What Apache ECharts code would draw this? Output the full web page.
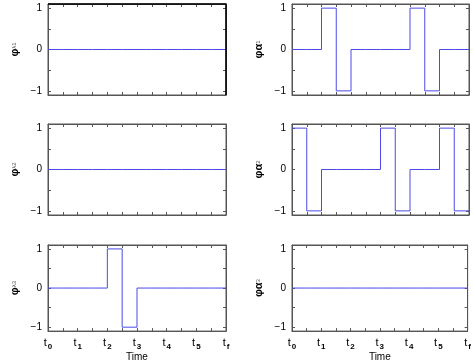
<!DOCTYPE html>
<html>
<head>
<meta charset="utf-8">
<script src="https://cdn.jsdelivr.net/npm/echarts@6/dist/echarts.min.js"></script>
<style>
html,body{margin:0;padding:0;background:#fff;}
#c{width:474px;height:363px;}
</style>
</head>
<body>
<div id="c"></div>
<script>
// segment start times (every half unit) and the end time
var segTimes = [0, 0.5, 1, 1.5, 2, 2.5, 3, 3.5, 4, 4.5, 5, 5.5];
var endTime = 6;
var xTickLabels = ['0', '1', '2', '3', '4', '5', 'f'];
var yTickLabels = [-1, 0, 1];

// values of each half-unit segment
var phiL1 = [0, 0, 0, 0, 0, 0, 0, 0, 0, 0, 0, 0];
var blackL1 = [1.1, 1.1, 1.1, 1.1, 1.1, 1.1, 1.1, 1.1, 1.1, 1.1, 1.1, 1.1];
var blackL1End = -1.1;
var phiA1 = [0, 0, 1, -1, 0, 0, 0, 0, 1, -1, 0, 0];
var phiL2 = [0, 0, 0, 0, 0, 0, 0, 0, 0, 0, 0, 0];
var phiA2 = [1, -1, 0, 0, 0, 0, 1, -1, 0, 0, 1, -1];
var phiL3 = [0, 0, 0, 0, 1, -1, 0, 0, 0, 0, 0, 0];
var phiA3 = [0, 0, 0, 0, 0, 0, 0, 0, 0, 0, 0, 0];

var yNamesLeft = ['λ1', 'λ2', 'λ3'];
var yNamesRight = ['1', '2', '3'];

function stepData(vals, endVal) {
  var d = segTimes.map(function (t, i) { return [t, vals[i]]; });
  d.push([endTime, endVal === undefined ? vals[vals.length - 1] : endVal]);
  return d;
}

var FONT = 'Liberation Sans, Arial, Helvetica, sans-serif';
var frameColor = '#555';
var blue = '#4a4ae8';

var lefts = [48, 292];
var widths = [178, 177];
var tops = [4, 124, 245];
var H = 91;

var grids = [], xAxes = [], yAxes = [], series = [];
var panels = [
  [phiL1, 0, 0, 'L', 0],
  [phiA1, 0, 1, 'R', 0],
  [phiL2, 1, 0, 'L', 1],
  [phiA2, 1, 1, 'R', 1],
  [phiL3, 2, 0, 'L', 2],
  [phiA3, 2, 1, 'R', 2]
];
var xTicks = segTimes.concat([endTime]);

panels.forEach(function (p, i) {
  var row = p[1], col = p[2];
  grids.push({left: lefts[col], width: widths[col], top: tops[row], height: H,
    show: true, borderColor: frameColor, borderWidth: 1, backgroundColor: '#fff'});
  var showLab = row === 2;
  var gi = i;
  // bottom x axis
  xAxes.push({
    type: 'value', gridIndex: gi, min: 0, max: endTime, position: 'bottom',
    axisLine: {show: true, onZero: false, lineStyle: {color: frameColor}},
    axisTick: {show: true, inside: true, length: 3, customValues: xTicks, lineStyle: {color: frameColor}},
    splitLine: {show: false},
    axisLabel: {show: showLab, margin: 4, customValues: [0, 1, 2, 3, 4, 5, 6],
      formatter: function (v) { return '{t|t}{s|' + xTickLabels[Math.round(v)] + '}'; },
      rich: {t: {fontSize: 11, fontFamily: FONT, color: '#000'},
             s: {fontSize: 8, fontFamily: FONT, fontWeight: 'bold', color: '#000', padding: [8, 0, 0, 1]}}},
    name: showLab ? 'Time' : '', nameLocation: 'middle', nameGap: 19,
    nameTextStyle: {fontSize: 10, fontFamily: FONT, color: '#000'}
  });
  // top x axis (ticks only)
  xAxes.push({
    type: 'value', gridIndex: gi, min: 0, max: endTime, position: 'top',
    axisLine: {show: true, onZero: false, lineStyle: {color: frameColor}},
    axisTick: {show: true, inside: true, length: 3, customValues: xTicks, lineStyle: {color: frameColor}},
    splitLine: {show: false}, axisLabel: {show: false}
  });
  var nm = p[3] === 'L' ? '{a|φ}{b|' + yNamesLeft[p[4]] + '}' : '{a|φα}{b|' + yNamesRight[p[4]] + '}';
  yAxes.push({
    type: 'value', gridIndex: gi, min: -1.1, max: 1.1, position: 'left',
    axisLine: {show: true, onZero: false, lineStyle: {color: frameColor}},
    axisTick: {show: true, inside: true, length: 3, customValues: [-1, -0.5, 0, 0.5, 1], lineStyle: {color: frameColor}},
    splitLine: {show: false},
    axisLabel: {show: true, margin: 6, customValues: yTickLabels, fontSize: 10, fontFamily: FONT, color: '#000',
      formatter: function (v) { return v < 0 ? '−' + Math.abs(v) : String(v); }},
    name: nm, nameLocation: 'middle', nameGap: 28, nameRotate: 90,
    nameTextStyle: {rich: {a: {fontSize: 11, fontWeight: 'bold', fontFamily: FONT, color: '#000'},
                           b: {fontSize: 6, fontFamily: FONT, color: '#555'}}}
  });
  yAxes.push({
    type: 'value', gridIndex: gi, min: -1.1, max: 1.1, position: 'right',
    axisLine: {show: true, onZero: false, lineStyle: {color: frameColor}},
    axisTick: {show: true, inside: true, length: 3, customValues: [-1, -0.5, 0, 0.5, 1], lineStyle: {color: frameColor}},
    splitLine: {show: false}, axisLabel: {show: false}
  });
  series.push({
    type: 'line', xAxisIndex: 2 * gi, yAxisIndex: 2 * gi, step: 'end',
    data: stepData(p[0]), showSymbol: false, symbol: 'none', animation: false,
    lineStyle: {color: blue, width: 1}, clip: true, z: 10
  });
});

// black line in the first panel
series.push({
  type: 'line', xAxisIndex: 0, yAxisIndex: 0, step: 'end',
  data: stepData(blackL1, blackL1End), showSymbol: false, symbol: 'none', animation: false,
  lineStyle: {color: '#000', width: 1.5}, clip: false, z: 11
});

var chart = echarts.init(document.getElementById('c'), null, {renderer: 'canvas'});
chart.setOption({
  animation: false,
  grid: grids, xAxis: xAxes, yAxis: yAxes, series: series
});
</script>
</body>
</html>
